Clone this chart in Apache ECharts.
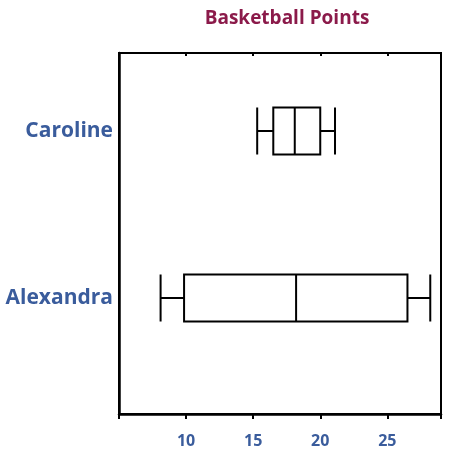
<!DOCTYPE html>
<html><head><meta charset="utf-8">
<script src="https://cdn.jsdelivr.net/npm/echarts@6/dist/echarts.min.js"></script>
<style>html,body{margin:0;padding:0;background:#fff}#c{width:463px;height:456px}</style>
</head><body><div id="c"></div>
<script>
const categories = ['Alexandra', 'Caroline'];
const alexandra = [8.1, 9.85, 18.2, 26.5, 28.2];
const caroline = [15.3, 16.5, 18.1, 20.0, 21.1];
const xTicks = [10, 15, 20, 25];

const chart = echarts.init(document.getElementById('c'));
const blue = '#3a5c9c';
chart.setOption({
  animation: false,
  title: { text: 'Basketball Points', left: 282, top: 4, textAlign: 'center',
    textStyle: { color: '#8b1a4a', fontSize: 19, fontWeight: 'bold', fontFamily: 'Open Sans' } },
  grid: [
    { left: 119, right: 22, top: 53, bottom: 42, show: true, borderColor: '#000', borderWidth: 2, backgroundColor: 'transparent' },
    { left: 119, right: 22, top: 47.5, height: 334 }
  ],
  xAxis: [
    { gridIndex: 0, type: 'value', min: 5, max: 29, interval: 5,
      axisLine: { lineStyle: { color: '#000', width: 2.5 } },
      axisTick: { length: 5, lineStyle: { color: '#000', width: 2 } },
      splitLine: { show: false },
      axisLabel: { color: blue, fontWeight: 'bold', fontSize: 16, fontFamily: 'Open Sans', margin: 19,
        formatter: v => xTicks.includes(v) ? String(v) : '' } },
    { gridIndex: 0, type: 'value', position: 'top', min: 5, max: 29, interval: 5,
      axisLine: { lineStyle: { color: '#000', width: 2 } },
      axisTick: { inside: true, length: 3, lineStyle: { color: '#000', width: 2 } },
      splitLine: { show: false }, axisLabel: { show: false } },
    { gridIndex: 1, type: 'value', min: 5, max: 29, show: false }
  ],
  yAxis: [
    { gridIndex: 0, type: 'value', axisLine: { show: true, lineStyle: { color: '#000', width: 2.5 } },
      axisTick: { show: false }, axisLabel: { show: false }, splitLine: { show: false } },
    { gridIndex: 1, type: 'category', data: categories,
      axisLine: { show: false }, axisTick: { show: false },
      axisLabel: { color: blue, fontWeight: 'bold', fontSize: 21, fontFamily: 'Open Sans', margin: 6 } }
  ],
  series: [{
    type: 'boxplot', xAxisIndex: 2, yAxisIndex: 1,
    boxWidth: [47, 47],
    itemStyle: { color: '#fff', borderColor: '#000', borderWidth: 2 },
    data: [alexandra, caroline]
  }]
});
</script></body></html>
